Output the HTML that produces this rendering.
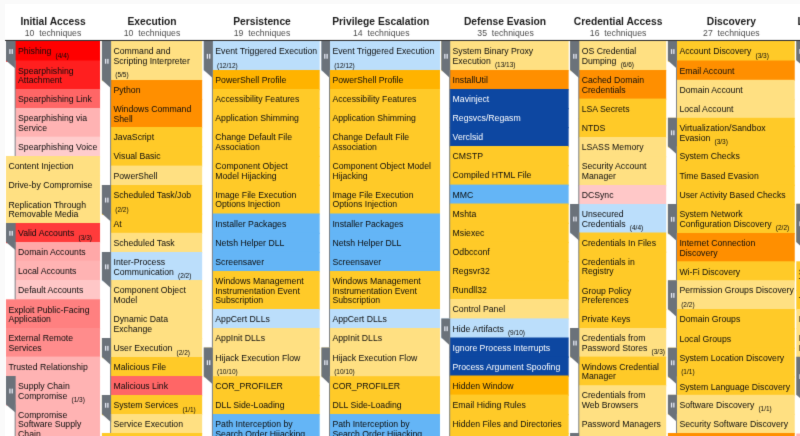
<!DOCTYPE html>
<html><head><meta charset="utf-8"><title>ATT&amp;CK Navigator</title>
<style>
html,body{margin:0;padding:0;width:800px;height:436px;overflow:hidden;}
body{width:800px;height:436px;overflow:hidden;background:#fafafa;position:relative;font-family:"Liberation Sans",sans-serif;}
#page{position:absolute;left:5px;top:4px;width:795px;height:432px;background:#fff;}
#w{position:absolute;left:0;top:0;width:800px;height:436px;overflow:hidden;will-change:transform;filter:url(#soft);}
.h{position:absolute;top:16.3px;text-align:center;font-weight:bold;font-size:10.28px;line-height:12px;color:#1c1c1c;white-space:nowrap;}
.c{position:absolute;top:27.5px;text-align:center;font-size:9.1px;line-height:10px;color:#4c4c4c;white-space:pre;transform:scaleX(0.955);}
.r{position:absolute;box-sizing:border-box;font-size:8.7px;line-height:9.55px;color:#0c0c0c;white-space:nowrap;padding:6.25px 0 0 2.4px;overflow:hidden;}
.r.w{color:#fff;}
.n{font-size:6.5px;position:relative;top:3.4px;margin-left:4.2px;}
.n.b{display:block;margin-left:1.8px;top:1.8px;line-height:13px;}
</style></head><body>
<div id="page"></div>
<svg width="0" height="0" style="position:absolute"><defs><filter id="soft" x="0" y="0" width="100%" height="100%" color-interpolation-filters="sRGB"><feConvolveMatrix order="3" kernelMatrix="0.01 0.08 0.01 0.08 0.64 0.08 0.01 0.08 0.01" divisor="1" edgeMode="duplicate" preserveAlpha="false"/></filter></defs></svg>
<div id="w">

<svg width="800" height="436" viewBox="0 0 800 436" style="position:absolute;left:0;top:0">
<rect x="6.00" y="41.00" width="94.05" height="20.70" fill="#ff0000"/>
<rect x="15.05" y="60.50" width="85.00" height="29.70" fill="#ff1f1f"/>
<rect x="15.05" y="89.00" width="85.00" height="20.20" fill="#ff6666"/>
<rect x="15.05" y="108.00" width="85.00" height="29.90" fill="#ffb3b3"/>
<rect x="15.05" y="136.70" width="85.00" height="20.50" fill="#ffcccc"/>
<rect x="6.00" y="156.00" width="94.05" height="20.40" fill="#ffe082"/>
<rect x="6.00" y="175.20" width="94.05" height="20.40" fill="#ffe082"/>
<rect x="6.00" y="194.40" width="94.05" height="29.80" fill="#ffe082"/>
<rect x="6.00" y="223.00" width="94.05" height="20.20" fill="#ff3b3b"/>
<rect x="15.05" y="242.00" width="85.00" height="19.90" fill="#ffa8a8"/>
<rect x="15.05" y="260.70" width="85.00" height="20.50" fill="#ffb3b3"/>
<rect x="15.05" y="280.00" width="85.00" height="20.50" fill="#ffc7c7"/>
<rect x="6.00" y="299.30" width="94.05" height="29.90" fill="#ff8080"/>
<rect x="6.00" y="328.00" width="94.05" height="29.80" fill="#ff8c8c"/>
<rect x="6.00" y="356.60" width="94.05" height="20.60" fill="#ffb3b3"/>
<rect x="6.00" y="376.00" width="94.05" height="29.70" fill="#ffb3b3"/>
<rect x="15.05" y="404.50" width="85.00" height="38.50" fill="#ffb3b3"/>
<rect x="101.90" y="41.00" width="100.25" height="40.20" fill="#ffe082"/>
<rect x="110.50" y="80.00" width="91.65" height="20.20" fill="#ff8f00"/>
<rect x="110.50" y="99.00" width="91.65" height="29.20" fill="#ff8f00"/>
<rect x="110.50" y="127.00" width="91.65" height="20.40" fill="#ffca28"/>
<rect x="110.50" y="146.20" width="91.65" height="20.60" fill="#ffca28"/>
<rect x="110.50" y="165.60" width="91.65" height="20.60" fill="#ffe082"/>
<rect x="101.90" y="185.00" width="100.25" height="29.80" fill="#ffca28"/>
<rect x="110.50" y="213.60" width="91.65" height="20.40" fill="#ffca28"/>
<rect x="110.50" y="232.80" width="91.65" height="20.40" fill="#ffe082"/>
<rect x="101.90" y="252.00" width="100.25" height="29.20" fill="#bbdefb"/>
<rect x="110.50" y="280.00" width="91.65" height="30.20" fill="#ffe082"/>
<rect x="110.50" y="309.00" width="91.65" height="30.20" fill="#ffe082"/>
<rect x="101.90" y="338.00" width="100.25" height="20.20" fill="#ffe082"/>
<rect x="110.50" y="357.00" width="91.65" height="20.20" fill="#ffca28"/>
<rect x="110.50" y="376.00" width="91.65" height="20.20" fill="#ff6666"/>
<rect x="101.90" y="395.00" width="100.25" height="20.20" fill="#ffca28"/>
<rect x="110.50" y="414.00" width="91.65" height="20.20" fill="#ffe082"/>
<rect x="101.90" y="433.00" width="100.25" height="29.00" fill="#ffca28"/>
<rect x="203.75" y="41.00" width="115.95" height="30.20" fill="#bbdefb"/>
<rect x="212.30" y="70.00" width="107.40" height="20.20" fill="#ffb300"/>
<rect x="212.30" y="89.00" width="107.40" height="20.20" fill="#ffca28"/>
<rect x="212.30" y="108.00" width="107.40" height="20.20" fill="#ffca28"/>
<rect x="212.30" y="127.00" width="107.40" height="30.00" fill="#ffca28"/>
<rect x="212.30" y="155.80" width="107.40" height="30.00" fill="#ffca28"/>
<rect x="212.30" y="184.60" width="107.40" height="30.10" fill="#ffca28"/>
<rect x="212.30" y="213.50" width="107.40" height="20.40" fill="#64b5f6"/>
<rect x="212.30" y="232.70" width="107.40" height="20.40" fill="#64b5f6"/>
<rect x="212.30" y="251.90" width="107.40" height="20.30" fill="#64b5f6"/>
<rect x="212.30" y="271.00" width="107.40" height="39.20" fill="#ffca28"/>
<rect x="212.30" y="309.00" width="107.40" height="20.20" fill="#bbdefb"/>
<rect x="212.30" y="328.00" width="107.40" height="20.70" fill="#ffe082"/>
<rect x="203.75" y="347.50" width="115.95" height="29.90" fill="#ffe082"/>
<rect x="212.30" y="376.20" width="107.40" height="20.00" fill="#ffca28"/>
<rect x="212.30" y="395.00" width="107.40" height="20.20" fill="#ffca28"/>
<rect x="212.30" y="414.00" width="107.40" height="29.00" fill="#64b5f6"/>
<rect x="321.40" y="41.00" width="118.60" height="30.20" fill="#bbdefb"/>
<rect x="329.40" y="70.00" width="110.60" height="20.20" fill="#ffb300"/>
<rect x="329.40" y="89.00" width="110.60" height="20.20" fill="#ffca28"/>
<rect x="329.40" y="108.00" width="110.60" height="20.20" fill="#ffca28"/>
<rect x="329.40" y="127.00" width="110.60" height="30.00" fill="#ffca28"/>
<rect x="329.40" y="155.80" width="110.60" height="30.00" fill="#ffca28"/>
<rect x="329.40" y="184.60" width="110.60" height="30.10" fill="#ffca28"/>
<rect x="329.40" y="213.50" width="110.60" height="20.40" fill="#64b5f6"/>
<rect x="329.40" y="232.70" width="110.60" height="20.40" fill="#64b5f6"/>
<rect x="329.40" y="251.90" width="110.60" height="20.30" fill="#64b5f6"/>
<rect x="329.40" y="271.00" width="110.60" height="39.20" fill="#ffca28"/>
<rect x="329.40" y="309.00" width="110.60" height="20.20" fill="#bbdefb"/>
<rect x="329.40" y="328.00" width="110.60" height="20.70" fill="#ffe082"/>
<rect x="321.40" y="347.50" width="118.60" height="29.90" fill="#ffe082"/>
<rect x="329.40" y="376.20" width="110.60" height="20.00" fill="#ffca28"/>
<rect x="329.40" y="395.00" width="110.60" height="20.20" fill="#ffca28"/>
<rect x="329.40" y="414.00" width="110.60" height="29.00" fill="#64b5f6"/>
<rect x="441.30" y="41.00" width="127.35" height="30.20" fill="#ffe082"/>
<rect x="449.60" y="70.00" width="119.05" height="20.20" fill="#ff8f00"/>
<rect x="449.60" y="89.00" width="119.05" height="20.20" fill="#0d47a1"/>
<rect x="449.60" y="108.00" width="119.05" height="20.20" fill="#0d47a1"/>
<rect x="449.60" y="127.00" width="119.05" height="20.20" fill="#0d47a1"/>
<rect x="449.60" y="146.00" width="119.05" height="20.20" fill="#ffca28"/>
<rect x="449.60" y="165.00" width="119.05" height="20.80" fill="#ffca28"/>
<rect x="449.60" y="184.60" width="119.05" height="20.10" fill="#64b5f6"/>
<rect x="449.60" y="203.50" width="119.05" height="20.40" fill="#ffca28"/>
<rect x="449.60" y="222.70" width="119.05" height="20.40" fill="#ffca28"/>
<rect x="449.60" y="241.90" width="119.05" height="20.30" fill="#ffca28"/>
<rect x="449.60" y="261.00" width="119.05" height="20.40" fill="#ffca28"/>
<rect x="449.60" y="280.20" width="119.05" height="20.00" fill="#ffca28"/>
<rect x="449.60" y="299.00" width="119.05" height="20.60" fill="#ffe082"/>
<rect x="441.30" y="318.40" width="127.35" height="20.30" fill="#bbdefb"/>
<rect x="449.60" y="337.50" width="119.05" height="20.20" fill="#0d47a1"/>
<rect x="449.60" y="356.50" width="119.05" height="20.20" fill="#0d47a1"/>
<rect x="449.60" y="375.50" width="119.05" height="20.30" fill="#ffb300"/>
<rect x="449.60" y="394.60" width="119.05" height="20.60" fill="#ffca28"/>
<rect x="449.60" y="414.00" width="119.05" height="20.20" fill="#ffca28"/>
<rect x="449.60" y="433.00" width="119.05" height="19.00" fill="#ffca28"/>
<rect x="570.10" y="41.00" width="96.10" height="30.20" fill="#ffe082"/>
<rect x="578.70" y="70.00" width="87.50" height="29.80" fill="#ff8f00"/>
<rect x="578.70" y="98.60" width="87.50" height="20.60" fill="#ffca28"/>
<rect x="578.70" y="118.00" width="87.50" height="20.20" fill="#ffca28"/>
<rect x="578.70" y="137.00" width="87.50" height="20.40" fill="#ffe082"/>
<rect x="578.70" y="156.20" width="87.50" height="30.00" fill="#ffe082"/>
<rect x="578.70" y="185.00" width="87.50" height="20.20" fill="#ffc8c8"/>
<rect x="570.10" y="204.00" width="96.10" height="29.70" fill="#bbdefb"/>
<rect x="578.70" y="232.50" width="87.50" height="20.30" fill="#ffca28"/>
<rect x="578.70" y="251.60" width="87.50" height="29.90" fill="#ffca28"/>
<rect x="578.70" y="280.30" width="87.50" height="29.90" fill="#ffca28"/>
<rect x="578.70" y="309.00" width="87.50" height="20.20" fill="#ffca28"/>
<rect x="570.10" y="328.00" width="96.10" height="29.80" fill="#ffe082"/>
<rect x="578.70" y="356.60" width="87.50" height="29.80" fill="#ffca28"/>
<rect x="578.70" y="385.20" width="87.50" height="29.80" fill="#ffe082"/>
<rect x="578.70" y="413.80" width="87.50" height="20.40" fill="#ffe082"/>
<rect x="570.10" y="433.00" width="96.10" height="29.00" fill="#ffe082"/>
<rect x="667.90" y="41.00" width="126.85" height="20.70" fill="#ffca28"/>
<rect x="676.40" y="60.50" width="118.35" height="20.50" fill="#ff8f00"/>
<rect x="676.40" y="79.80" width="118.35" height="20.40" fill="#ffe082"/>
<rect x="676.40" y="99.00" width="118.35" height="20.00" fill="#ffe082"/>
<rect x="667.90" y="117.80" width="126.85" height="29.60" fill="#ffca28"/>
<rect x="676.40" y="146.20" width="118.35" height="20.50" fill="#ffca28"/>
<rect x="676.40" y="165.50" width="118.35" height="20.40" fill="#ffca28"/>
<rect x="676.40" y="184.70" width="118.35" height="20.50" fill="#ffca28"/>
<rect x="667.90" y="204.00" width="126.85" height="30.20" fill="#ffca28"/>
<rect x="676.40" y="233.00" width="118.35" height="29.50" fill="#ff8f00"/>
<rect x="676.40" y="261.30" width="118.35" height="20.10" fill="#ffca28"/>
<rect x="667.90" y="280.20" width="126.85" height="30.00" fill="#ffe082"/>
<rect x="676.40" y="309.00" width="118.35" height="20.50" fill="#ffca28"/>
<rect x="676.40" y="328.30" width="118.35" height="20.60" fill="#ffca28"/>
<rect x="667.90" y="347.70" width="126.85" height="29.80" fill="#ffca28"/>
<rect x="676.40" y="376.30" width="118.35" height="19.70" fill="#ffca28"/>
<rect x="667.90" y="394.80" width="126.85" height="20.20" fill="#ffe082"/>
<rect x="676.40" y="413.80" width="118.35" height="20.40" fill="#ffe082"/>
<rect x="667.90" y="433.00" width="126.85" height="29.00" fill="#ff8f00"/>
<rect x="796.30" y="41.00" width="103.70" height="19.20" fill="#ffca28"/>
<rect x="796.30" y="203.80" width="103.70" height="38.30" fill="#ffca28"/>
<rect x="796.30" y="261.30" width="103.70" height="29.90" fill="#ffca28"/>
<rect x="796.30" y="290.00" width="103.70" height="20.20" fill="#ffca28"/>
<rect x="796.30" y="309.00" width="103.70" height="20.20" fill="#ffe082"/>
<rect x="796.30" y="328.00" width="103.70" height="30.00" fill="#ffe082"/>
<rect x="796.30" y="356.80" width="103.70" height="38.00" fill="#ffe082"/>
<rect x="796.30" y="433.50" width="103.70" height="28.50" fill="#ffb3b3"/>
<polygon points="6.00,41.00 15.65,41.00 15.65,68.70 6.00,60.50" fill="#6b727a"/>
<rect x="14.65" y="60.50" width="1" height="95.50" fill="#7d8389"/>
<polygon points="6.00,223.00 15.65,223.00 15.65,250.20 6.00,242.00" fill="#6b727a"/>
<rect x="14.65" y="242.00" width="1" height="57.30" fill="#7d8389"/>
<polygon points="6.00,376.00 15.65,376.00 15.65,412.70 6.00,404.50" fill="#6b727a"/>
<rect x="14.65" y="404.50" width="1" height="38.50" fill="#7d8389"/>
<polygon points="101.90,41.00 111.10,41.00 111.10,88.20 101.90,80.00" fill="#6b727a"/>
<rect x="110.10" y="80.00" width="1" height="105.00" fill="#7d8389"/>
<polygon points="101.90,185.00 111.10,185.00 111.10,221.80 101.90,213.60" fill="#6b727a"/>
<rect x="110.10" y="213.60" width="1" height="38.40" fill="#7d8389"/>
<polygon points="101.90,252.00 111.10,252.00 111.10,288.20 101.90,280.00" fill="#6b727a"/>
<rect x="110.10" y="280.00" width="1" height="58.00" fill="#7d8389"/>
<polygon points="101.90,338.00 111.10,338.00 111.10,365.20 101.90,357.00" fill="#6b727a"/>
<rect x="110.10" y="357.00" width="1" height="38.00" fill="#7d8389"/>
<polygon points="101.90,395.00 111.10,395.00 111.10,422.20 101.90,414.00" fill="#6b727a"/>
<rect x="110.10" y="414.00" width="1" height="19.00" fill="#7d8389"/>
<polygon points="203.75,41.00 212.90,41.00 212.90,78.20 203.75,70.00" fill="#6b727a"/>
<rect x="211.90" y="70.00" width="1" height="277.50" fill="#7d8389"/>
<polygon points="203.75,347.50 212.90,347.50 212.90,384.40 203.75,376.20" fill="#6b727a"/>
<rect x="211.90" y="376.20" width="1" height="66.80" fill="#7d8389"/>
<polygon points="321.40,41.00 330.00,41.00 330.00,78.20 321.40,70.00" fill="#6b727a"/>
<rect x="329.00" y="70.00" width="1" height="277.50" fill="#7d8389"/>
<polygon points="321.40,347.50 330.00,347.50 330.00,384.40 321.40,376.20" fill="#6b727a"/>
<rect x="329.00" y="376.20" width="1" height="66.80" fill="#7d8389"/>
<polygon points="441.30,41.00 450.20,41.00 450.20,78.20 441.30,70.00" fill="#6b727a"/>
<rect x="449.20" y="70.00" width="1" height="248.40" fill="#7d8389"/>
<polygon points="441.30,318.40 450.20,318.40 450.20,345.70 441.30,337.50" fill="#6b727a"/>
<rect x="449.20" y="337.50" width="1" height="114.50" fill="#7d8389"/>
<polygon points="570.10,41.00 579.30,41.00 579.30,78.20 570.10,70.00" fill="#6b727a"/>
<rect x="578.30" y="70.00" width="1" height="134.00" fill="#7d8389"/>
<polygon points="570.10,204.00 579.30,204.00 579.30,240.70 570.10,232.50" fill="#6b727a"/>
<rect x="578.30" y="232.50" width="1" height="95.50" fill="#7d8389"/>
<polygon points="570.10,328.00 579.30,328.00 579.30,364.80 570.10,356.60" fill="#6b727a"/>
<rect x="578.30" y="356.60" width="1" height="76.40" fill="#7d8389"/>
<polygon points="570.10,433.00 579.30,433.00 579.30,470.20 570.10,462.00" fill="#6b727a"/>
<polygon points="667.90,41.00 677.00,41.00 677.00,68.70 667.90,60.50" fill="#6b727a"/>
<rect x="676.00" y="60.50" width="1" height="57.30" fill="#7d8389"/>
<polygon points="667.90,117.80 677.00,117.80 677.00,154.40 667.90,146.20" fill="#6b727a"/>
<rect x="676.00" y="146.20" width="1" height="57.80" fill="#7d8389"/>
<polygon points="667.90,204.00 677.00,204.00 677.00,241.20 667.90,233.00" fill="#6b727a"/>
<rect x="676.00" y="233.00" width="1" height="47.20" fill="#7d8389"/>
<polygon points="667.90,280.20 677.00,280.20 677.00,317.20 667.90,309.00" fill="#6b727a"/>
<rect x="676.00" y="309.00" width="1" height="38.70" fill="#7d8389"/>
<polygon points="667.90,347.70 677.00,347.70 677.00,384.50 667.90,376.30" fill="#6b727a"/>
<rect x="676.00" y="376.30" width="1" height="18.50" fill="#7d8389"/>
<polygon points="667.90,394.80 677.00,394.80 677.00,422.00 667.90,413.80" fill="#6b727a"/>
<rect x="676.00" y="413.80" width="1" height="19.20" fill="#7d8389"/>
<polygon points="796.30,41.00 805.50,41.00 805.50,68.40 796.30,60.20" fill="#6b727a"/>
<polygon points="796.30,203.80 805.50,203.80 805.50,250.30 796.30,242.10" fill="#6b727a"/>
<polygon points="796.30,356.80 805.50,356.80 805.50,403.00 796.30,394.80" fill="#6b727a"/>
<rect x="5" y="39.95" width="795" height="1.05" fill="#2e2e2e"/>
<g fill="#e6e9f4"><rect x="9.27" y="49.15" width="1.3" height="4.8"/><rect x="11.57" y="49.15" width="1.3" height="4.8"/><rect x="9.27" y="230.90" width="1.3" height="4.8"/><rect x="11.57" y="230.90" width="1.3" height="4.8"/><rect x="9.27" y="388.65" width="1.3" height="4.8"/><rect x="11.57" y="388.65" width="1.3" height="4.8"/><rect x="104.95" y="58.90" width="1.3" height="4.8"/><rect x="107.25" y="58.90" width="1.3" height="4.8"/><rect x="104.95" y="197.70" width="1.3" height="4.8"/><rect x="107.25" y="197.70" width="1.3" height="4.8"/><rect x="104.95" y="264.40" width="1.3" height="4.8"/><rect x="107.25" y="264.40" width="1.3" height="4.8"/><rect x="104.95" y="345.90" width="1.3" height="4.8"/><rect x="107.25" y="345.90" width="1.3" height="4.8"/><rect x="104.95" y="402.90" width="1.3" height="4.8"/><rect x="107.25" y="402.90" width="1.3" height="4.8"/><rect x="206.77" y="53.90" width="1.3" height="4.8"/><rect x="209.07" y="53.90" width="1.3" height="4.8"/><rect x="206.77" y="360.25" width="1.3" height="4.8"/><rect x="209.07" y="360.25" width="1.3" height="4.8"/><rect x="324.15" y="53.90" width="1.3" height="4.8"/><rect x="326.45" y="53.90" width="1.3" height="4.8"/><rect x="324.15" y="360.25" width="1.3" height="4.8"/><rect x="326.45" y="360.25" width="1.3" height="4.8"/><rect x="444.20" y="53.90" width="1.3" height="4.8"/><rect x="446.50" y="53.90" width="1.3" height="4.8"/><rect x="444.20" y="326.35" width="1.3" height="4.8"/><rect x="446.50" y="326.35" width="1.3" height="4.8"/><rect x="573.15" y="53.90" width="1.3" height="4.8"/><rect x="575.45" y="53.90" width="1.3" height="4.8"/><rect x="573.15" y="216.65" width="1.3" height="4.8"/><rect x="575.45" y="216.65" width="1.3" height="4.8"/><rect x="573.15" y="340.70" width="1.3" height="4.8"/><rect x="575.45" y="340.70" width="1.3" height="4.8"/><rect x="573.15" y="445.90" width="1.3" height="4.8"/><rect x="575.45" y="445.90" width="1.3" height="4.8"/><rect x="670.90" y="49.15" width="1.3" height="4.8"/><rect x="673.20" y="49.15" width="1.3" height="4.8"/><rect x="670.90" y="130.40" width="1.3" height="4.8"/><rect x="673.20" y="130.40" width="1.3" height="4.8"/><rect x="670.90" y="216.90" width="1.3" height="4.8"/><rect x="673.20" y="216.90" width="1.3" height="4.8"/><rect x="670.90" y="293.00" width="1.3" height="4.8"/><rect x="673.20" y="293.00" width="1.3" height="4.8"/><rect x="670.90" y="360.40" width="1.3" height="4.8"/><rect x="673.20" y="360.40" width="1.3" height="4.8"/><rect x="670.90" y="402.70" width="1.3" height="4.8"/><rect x="673.20" y="402.70" width="1.3" height="4.8"/><rect x="799.35" y="49.00" width="1.3" height="4.8"/><rect x="801.65" y="49.00" width="1.3" height="4.8"/><rect x="799.35" y="221.35" width="1.3" height="4.8"/><rect x="801.65" y="221.35" width="1.3" height="4.8"/><rect x="799.35" y="374.20" width="1.3" height="4.8"/><rect x="801.65" y="374.20" width="1.3" height="4.8"/></g></svg>
<div class="h" style="left:6.00px;width:94.00px">Initial Access</div>
<div class="c" style="left:6.00px;width:94.00px">10  techniques</div>
<div class="r" style="left:15.65px;top:41.00px;width:84.40px;height:20.30px">Phishing<span class="n">(4/4)</span></div>
<div class="r" style="left:15.65px;top:60.50px;width:84.40px;height:29.30px">Spearphishing<br>Attachment</div>
<div class="r" style="left:15.65px;top:89.00px;width:84.40px;height:19.80px">Spearphishing Link</div>
<div class="r" style="left:15.65px;top:108.00px;width:84.40px;height:29.50px">Spearphishing via<br>Service</div>
<div class="r" style="left:15.65px;top:136.70px;width:84.40px;height:20.10px">Spearphishing Voice</div>
<div class="r" style="left:6.00px;top:156.00px;width:94.05px;height:20.00px">Content Injection</div>
<div class="r" style="left:6.00px;top:175.20px;width:94.05px;height:20.00px">Drive-by Compromise</div>
<div class="r" style="left:6.00px;top:194.40px;width:94.05px;height:29.40px">Replication Through<br>Removable Media</div>
<div class="r" style="left:15.65px;top:223.00px;width:84.40px;height:19.80px">Valid Accounts<span class="n">(3/3)</span></div>
<div class="r" style="left:15.65px;top:242.00px;width:84.40px;height:19.50px">Domain Accounts</div>
<div class="r" style="left:15.65px;top:260.70px;width:84.40px;height:20.10px">Local Accounts</div>
<div class="r" style="left:15.65px;top:280.00px;width:84.40px;height:20.10px">Default Accounts</div>
<div class="r" style="left:6.00px;top:299.30px;width:94.05px;height:29.50px">Exploit Public-Facing<br>Application</div>
<div class="r" style="left:6.00px;top:328.00px;width:94.05px;height:29.40px">External Remote<br>Services</div>
<div class="r" style="left:6.00px;top:356.60px;width:94.05px;height:20.20px">Trusted Relationship</div>
<div class="r" style="left:15.65px;top:376.00px;width:84.40px;height:29.30px">Supply Chain<br>Compromise<span class="n">(1/3)</span></div>
<div class="r" style="left:15.65px;top:404.50px;width:84.40px;height:39.30px">Compromise<br>Software Supply<br>Chain</div>
<div class="h" style="left:102.00px;width:100.00px">Execution</div>
<div class="c" style="left:102.00px;width:100.00px">10  techniques</div>
<div class="r" style="left:111.10px;top:41.00px;width:91.05px;height:39.80px">Command and<br>Scripting Interpreter<span class="n b">(5/5)</span></div>
<div class="r" style="left:111.10px;top:80.00px;width:91.05px;height:19.80px">Python</div>
<div class="r" style="left:111.10px;top:99.00px;width:91.05px;height:28.80px">Windows Command<br>Shell</div>
<div class="r" style="left:111.10px;top:127.00px;width:91.05px;height:20.00px">JavaScript</div>
<div class="r" style="left:111.10px;top:146.20px;width:91.05px;height:20.20px">Visual Basic</div>
<div class="r" style="left:111.10px;top:165.60px;width:91.05px;height:20.20px">PowerShell</div>
<div class="r" style="left:111.10px;top:185.00px;width:91.05px;height:29.40px">Scheduled Task/Job<span class="n b">(2/2)</span></div>
<div class="r" style="left:111.10px;top:213.60px;width:91.05px;height:20.00px">At</div>
<div class="r" style="left:111.10px;top:232.80px;width:91.05px;height:20.00px">Scheduled Task</div>
<div class="r" style="left:111.10px;top:252.00px;width:91.05px;height:28.80px">Inter-Process<br>Communication<span class="n">(2/2)</span></div>
<div class="r" style="left:111.10px;top:280.00px;width:91.05px;height:29.80px">Component Object<br>Model</div>
<div class="r" style="left:111.10px;top:309.00px;width:91.05px;height:29.80px">Dynamic Data<br>Exchange</div>
<div class="r" style="left:111.10px;top:338.00px;width:91.05px;height:19.80px">User Execution<span class="n">(2/2)</span></div>
<div class="r" style="left:111.10px;top:357.00px;width:91.05px;height:19.80px">Malicious File</div>
<div class="r" style="left:111.10px;top:376.00px;width:91.05px;height:19.80px">Malicious Link</div>
<div class="r" style="left:111.10px;top:395.00px;width:91.05px;height:19.80px">System Services<span class="n">(1/1)</span></div>
<div class="r" style="left:111.10px;top:414.00px;width:91.05px;height:19.80px">Service Execution</div>
<div class="r" style="left:101.90px;top:433.00px;width:100.25px;height:29.80px">Windows Management</div>
<div class="h" style="left:204.00px;width:116.00px">Persistence</div>
<div class="c" style="left:204.00px;width:116.00px">19  techniques</div>
<div class="r" style="left:212.90px;top:41.00px;width:106.80px;height:29.80px">Event Triggered Execution<span class="n b">(12/12)</span></div>
<div class="r" style="left:212.90px;top:70.00px;width:106.80px;height:19.80px">PowerShell Profile</div>
<div class="r" style="left:212.90px;top:89.00px;width:106.80px;height:19.80px">Accessibility Features</div>
<div class="r" style="left:212.90px;top:108.00px;width:106.80px;height:19.80px">Application Shimming</div>
<div class="r" style="left:212.90px;top:127.00px;width:106.80px;height:29.60px">Change Default File<br>Association</div>
<div class="r" style="left:212.90px;top:155.80px;width:106.80px;height:29.60px">Component Object<br>Model Hijacking</div>
<div class="r" style="left:212.90px;top:184.60px;width:106.80px;height:29.70px">Image File Execution<br>Options Injection</div>
<div class="r" style="left:212.90px;top:213.50px;width:106.80px;height:20.00px">Installer Packages</div>
<div class="r" style="left:212.90px;top:232.70px;width:106.80px;height:20.00px">Netsh Helper DLL</div>
<div class="r" style="left:212.90px;top:251.90px;width:106.80px;height:19.90px">Screensaver</div>
<div class="r" style="left:212.90px;top:271.00px;width:106.80px;height:38.80px">Windows Management<br>Instrumentation Event<br>Subscription</div>
<div class="r" style="left:212.90px;top:309.00px;width:106.80px;height:19.80px">AppCert DLLs</div>
<div class="r" style="left:212.90px;top:328.00px;width:106.80px;height:20.30px">AppInit DLLs</div>
<div class="r" style="left:212.90px;top:347.50px;width:106.80px;height:29.50px">Hijack Execution Flow<span class="n b">(10/10)</span></div>
<div class="r" style="left:212.90px;top:376.20px;width:106.80px;height:19.60px">COR_PROFILER</div>
<div class="r" style="left:212.90px;top:395.00px;width:106.80px;height:19.80px">DLL Side-Loading</div>
<div class="r" style="left:212.90px;top:414.00px;width:106.80px;height:29.80px">Path Interception by<br>Search Order Hijacking</div>
<div class="h" style="left:321.50px;width:118.50px">Privilege Escalation</div>
<div class="c" style="left:321.50px;width:118.50px">14  techniques</div>
<div class="r" style="left:330.00px;top:41.00px;width:110.00px;height:29.80px">Event Triggered Execution<span class="n b">(12/12)</span></div>
<div class="r" style="left:330.00px;top:70.00px;width:110.00px;height:19.80px">PowerShell Profile</div>
<div class="r" style="left:330.00px;top:89.00px;width:110.00px;height:19.80px">Accessibility Features</div>
<div class="r" style="left:330.00px;top:108.00px;width:110.00px;height:19.80px">Application Shimming</div>
<div class="r" style="left:330.00px;top:127.00px;width:110.00px;height:29.60px">Change Default File<br>Association</div>
<div class="r" style="left:330.00px;top:155.80px;width:110.00px;height:29.60px">Component Object Model<br>Hijacking</div>
<div class="r" style="left:330.00px;top:184.60px;width:110.00px;height:29.70px">Image File Execution<br>Options Injection</div>
<div class="r" style="left:330.00px;top:213.50px;width:110.00px;height:20.00px">Installer Packages</div>
<div class="r" style="left:330.00px;top:232.70px;width:110.00px;height:20.00px">Netsh Helper DLL</div>
<div class="r" style="left:330.00px;top:251.90px;width:110.00px;height:19.90px">Screensaver</div>
<div class="r" style="left:330.00px;top:271.00px;width:110.00px;height:38.80px">Windows Management<br>Instrumentation Event<br>Subscription</div>
<div class="r" style="left:330.00px;top:309.00px;width:110.00px;height:19.80px">AppCert DLLs</div>
<div class="r" style="left:330.00px;top:328.00px;width:110.00px;height:20.30px">AppInit DLLs</div>
<div class="r" style="left:330.00px;top:347.50px;width:110.00px;height:29.50px">Hijack Execution Flow<span class="n b">(10/10)</span></div>
<div class="r" style="left:330.00px;top:376.20px;width:110.00px;height:19.60px">COR_PROFILER</div>
<div class="r" style="left:330.00px;top:395.00px;width:110.00px;height:19.80px">DLL Side-Loading</div>
<div class="r" style="left:330.00px;top:414.00px;width:110.00px;height:29.80px">Path Interception by<br>Search Order Hijacking</div>
<div class="h" style="left:441.50px;width:127.10px">Defense Evasion</div>
<div class="c" style="left:441.50px;width:127.10px">35  techniques</div>
<div class="r" style="left:450.20px;top:41.00px;width:118.45px;height:29.80px">System Binary Proxy<br>Execution<span class="n">(13/13)</span></div>
<div class="r" style="left:450.20px;top:70.00px;width:118.45px;height:19.80px">InstallUtil</div>
<div class="r w" style="left:450.20px;top:89.00px;width:118.45px;height:19.80px">Mavinject</div>
<div class="r w" style="left:450.20px;top:108.00px;width:118.45px;height:19.80px">Regsvcs/Regasm</div>
<div class="r w" style="left:450.20px;top:127.00px;width:118.45px;height:19.80px">Verclsid</div>
<div class="r" style="left:450.20px;top:146.00px;width:118.45px;height:19.80px">CMSTP</div>
<div class="r" style="left:450.20px;top:165.00px;width:118.45px;height:20.40px">Compiled HTML File</div>
<div class="r" style="left:450.20px;top:184.60px;width:118.45px;height:19.70px">MMC</div>
<div class="r" style="left:450.20px;top:203.50px;width:118.45px;height:20.00px">Mshta</div>
<div class="r" style="left:450.20px;top:222.70px;width:118.45px;height:20.00px">Msiexec</div>
<div class="r" style="left:450.20px;top:241.90px;width:118.45px;height:19.90px">Odbcconf</div>
<div class="r" style="left:450.20px;top:261.00px;width:118.45px;height:20.00px">Regsvr32</div>
<div class="r" style="left:450.20px;top:280.20px;width:118.45px;height:19.60px">Rundll32</div>
<div class="r" style="left:450.20px;top:299.00px;width:118.45px;height:20.20px">Control Panel</div>
<div class="r" style="left:450.20px;top:318.40px;width:118.45px;height:19.90px">Hide Artifacts<span class="n">(9/10)</span></div>
<div class="r w" style="left:450.20px;top:337.50px;width:118.45px;height:19.80px">Ignore Process Interrupts</div>
<div class="r w" style="left:450.20px;top:356.50px;width:118.45px;height:19.80px">Process Argument Spoofing</div>
<div class="r" style="left:450.20px;top:375.50px;width:118.45px;height:19.90px">Hidden Window</div>
<div class="r" style="left:450.20px;top:394.60px;width:118.45px;height:20.20px">Email Hiding Rules</div>
<div class="r" style="left:450.20px;top:414.00px;width:118.45px;height:19.80px">Hidden Files and Directories</div>
<div class="r" style="left:450.20px;top:433.00px;width:118.45px;height:19.80px">Hidden Users</div>
<div class="h" style="left:570.00px;width:96.20px">Credential Access</div>
<div class="c" style="left:570.00px;width:96.20px">16  techniques</div>
<div class="r" style="left:579.30px;top:41.00px;width:86.90px;height:29.80px">OS Credential<br>Dumping<span class="n">(6/6)</span></div>
<div class="r" style="left:579.30px;top:70.00px;width:86.90px;height:29.40px">Cached Domain<br>Credentials</div>
<div class="r" style="left:579.30px;top:98.60px;width:86.90px;height:20.20px">LSA Secrets</div>
<div class="r" style="left:579.30px;top:118.00px;width:86.90px;height:19.80px">NTDS</div>
<div class="r" style="left:579.30px;top:137.00px;width:86.90px;height:20.00px">LSASS Memory</div>
<div class="r" style="left:579.30px;top:156.20px;width:86.90px;height:29.60px">Security Account<br>Manager</div>
<div class="r" style="left:579.30px;top:185.00px;width:86.90px;height:19.80px">DCSync</div>
<div class="r" style="left:579.30px;top:204.00px;width:86.90px;height:29.30px">Unsecured<br>Credentials<span class="n">(4/4)</span></div>
<div class="r" style="left:579.30px;top:232.50px;width:86.90px;height:19.90px">Credentials In Files</div>
<div class="r" style="left:579.30px;top:251.60px;width:86.90px;height:29.50px">Credentials in<br>Registry</div>
<div class="r" style="left:579.30px;top:280.30px;width:86.90px;height:29.50px">Group Policy<br>Preferences</div>
<div class="r" style="left:579.30px;top:309.00px;width:86.90px;height:19.80px">Private Keys</div>
<div class="r" style="left:579.30px;top:328.00px;width:86.90px;height:29.40px">Credentials from<br>Password Stores<span class="n">(3/3)</span></div>
<div class="r" style="left:579.30px;top:356.60px;width:86.90px;height:29.40px">Windows Credential<br>Manager</div>
<div class="r" style="left:579.30px;top:385.20px;width:86.90px;height:29.40px">Credentials from<br>Web Browsers</div>
<div class="r" style="left:579.30px;top:413.80px;width:86.90px;height:20.00px">Password Managers</div>
<div class="r" style="left:579.30px;top:433.00px;width:86.90px;height:29.80px">Steal or Forge</div>
<div class="h" style="left:668.00px;width:126.70px">Discovery</div>
<div class="c" style="left:668.00px;width:126.70px">27  techniques</div>
<div class="r" style="left:677.00px;top:41.00px;width:117.75px;height:20.30px">Account Discovery<span class="n">(3/3)</span></div>
<div class="r" style="left:677.00px;top:60.50px;width:117.75px;height:20.10px">Email Account</div>
<div class="r" style="left:677.00px;top:79.80px;width:117.75px;height:20.00px">Domain Account</div>
<div class="r" style="left:677.00px;top:99.00px;width:117.75px;height:19.60px">Local Account</div>
<div class="r" style="left:677.00px;top:117.80px;width:117.75px;height:29.20px">Virtualization/Sandbox<br>Evasion<span class="n">(3/3)</span></div>
<div class="r" style="left:677.00px;top:146.20px;width:117.75px;height:20.10px">System Checks</div>
<div class="r" style="left:677.00px;top:165.50px;width:117.75px;height:20.00px">Time Based Evasion</div>
<div class="r" style="left:677.00px;top:184.70px;width:117.75px;height:20.10px">User Activity Based Checks</div>
<div class="r" style="left:677.00px;top:204.00px;width:117.75px;height:29.80px">System Network<br>Configuration Discovery<span class="n">(2/2)</span></div>
<div class="r" style="left:677.00px;top:233.00px;width:117.75px;height:29.10px">Internet Connection<br>Discovery</div>
<div class="r" style="left:677.00px;top:261.30px;width:117.75px;height:19.70px">Wi-Fi Discovery</div>
<div class="r" style="left:677.00px;top:280.20px;width:117.75px;height:29.60px">Permission Groups Discovery<span class="n b">(2/2)</span></div>
<div class="r" style="left:677.00px;top:309.00px;width:117.75px;height:20.10px">Domain Groups</div>
<div class="r" style="left:677.00px;top:328.30px;width:117.75px;height:20.20px">Local Groups</div>
<div class="r" style="left:677.00px;top:347.70px;width:117.75px;height:29.40px">System Location Discovery<span class="n b">(1/1)</span></div>
<div class="r" style="left:677.00px;top:376.30px;width:117.75px;height:19.30px">System Language Discovery</div>
<div class="r" style="left:677.00px;top:394.80px;width:117.75px;height:19.80px">Software Discovery<span class="n">(1/1)</span></div>
<div class="r" style="left:677.00px;top:413.80px;width:117.75px;height:20.00px">Security Software Discovery</div>
<div class="r" style="left:667.90px;top:433.00px;width:126.85px;height:29.80px">System Information</div>
<div class="h" style="left:797.4px;text-align:left">Lateral Movement</div>
<div class="c" style="left:796.30px;width:103.70px">9  techniques</div>
<div class="r" style="left:805.50px;top:41.00px;width:94.50px;height:20.00px">Remote Services</div>
<div class="r" style="left:805.50px;top:203.80px;width:94.50px;height:39.10px">Use Alternate<br>Authentication<br>Material</div>
<div class="r" style="left:796.30px;top:261.30px;width:103.70px;height:29.50px">Software Deployment<br>Tools</div>
<div class="r" style="left:796.30px;top:290.00px;width:103.70px;height:19.80px">Taint Shared Content</div>
<div class="r" style="left:796.30px;top:309.00px;width:103.70px;height:19.80px">Lateral Tool Transfer</div>
<div class="r" style="left:796.30px;top:328.00px;width:103.70px;height:29.60px">Replication Through<br>Removable Media</div>
<div class="r" style="left:805.50px;top:356.80px;width:94.50px;height:38.80px">Remote Service<br>Session Hijacking</div>
<div class="r" style="left:796.30px;top:433.50px;width:103.70px;height:29.30px">Exploitation of<br>Remote Services</div>
</div>
</body></html>
